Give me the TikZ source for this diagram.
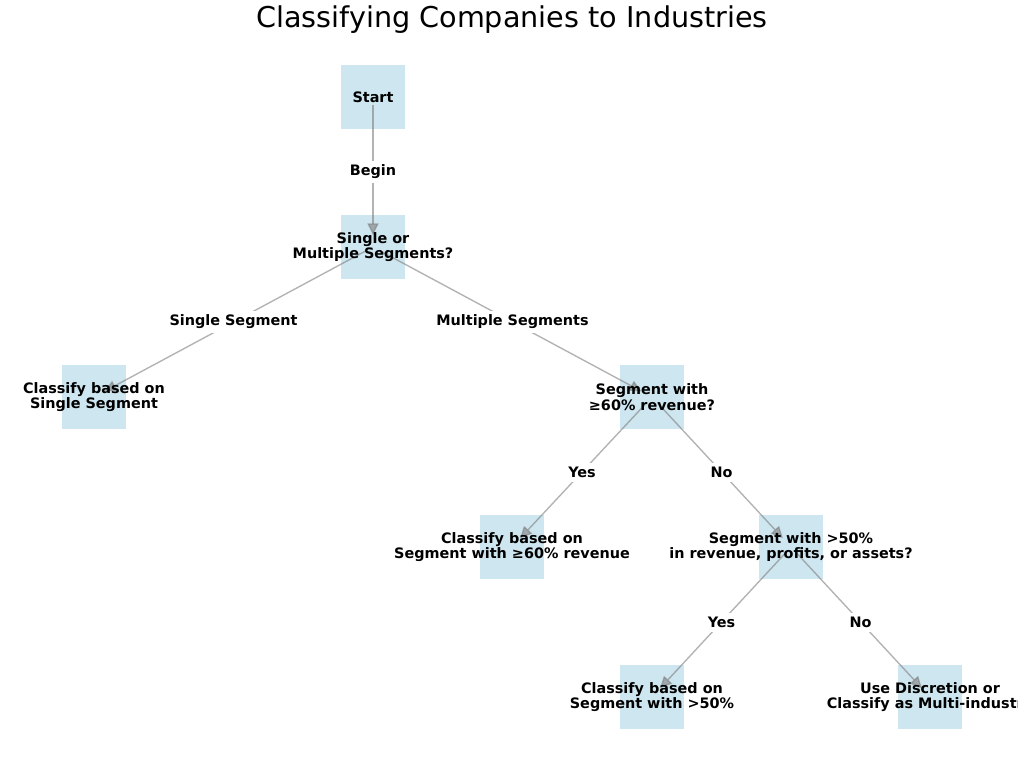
\documentclass[tikz,border=0pt]{standalone}
\usepackage{fontspec}
\setmainfont{DejaVu Sans}
\usetikzlibrary{arrows.meta}
\definecolor{boxblue}{RGB}{205,230,239}

\begin{document}
\begin{tikzpicture}[x=0.01in, y=-0.01in,
	sq/.style={fill=boxblue, minimum size=0.63in, inner sep=0pt},
	txt/.style={text=black, font=\fontsize{10.4}{11.4}\selectfont\bfseries, align=center},
	edge/.style={gray, opacity=0.6, line width=1pt, shorten <=5.8pt, shorten >=8.6pt, -{Triangle[length=8.5pt, width=8pt]}},
	elbl/.style={txt, fill=white, opacity=1, text opacity=1, inner sep=3pt}]
	\useasboundingbox (0,0) rectangle (1024,767);
	\clip (0,0) rectangle (1017,767);
	\node[font=\fontsize{20.7}{24}\selectfont] (title) at (512,20) {Classifying Companies to Industries};
	% squares
	\node[sq] (start) at (373,97) {};
	\node[sq] (nseg) at (373,247) {};
	\node[sq] (single) at (94,397) {};
	\node[sq] (sixty) at (652,397) {};
	\node[sq] (bysixty) at (512,547) {};
	\node[sq] (fifty) at (791,547) {};
	\node[sq] (byfifty) at (652,697) {};
	\node[sq] (discr) at (930,697) {};
	% edges
	\draw[edge] (start.center) -- (nseg.center) node[elbl, pos=0.5] {Begin};
	\draw[edge] (nseg.center) -- (single.center) node[elbl, pos=0.5] {Single Segment};
	\draw[edge] (nseg.center) -- (sixty.center) node[elbl, pos=0.5] {Multiple Segments};
	\draw[edge] (sixty.center) -- (bysixty.center) node[elbl, pos=0.5] {Yes};
	\draw[edge] (sixty.center) -- (fifty.center) node[elbl, pos=0.5] {No};
	\draw[edge] (fifty.center) -- (byfifty.center) node[elbl, pos=0.5] {Yes};
	\draw[edge] (fifty.center) -- (discr.center) node[elbl, pos=0.5] {No};
	% texts
	\node[txt] at (start) {Start};
	\node[txt] at (nseg) {Single or\\Multiple Segments?};
	\node[txt] at (single) {Classify based on\\Single Segment};
	\node[txt] at (sixty) {Segment with\\≥60\% revenue?};
	\node[txt] at (bysixty) {Classify based on\\Segment with ≥60\% revenue};
	\node[txt] at (fifty) {Segment with >50\%\\in revenue, profits, or assets?};
	\node[txt] at (byfifty) {Classify based on\\Segment with >50\%};
	\node[txt] at (discr) {Use Discretion or\\Classify as Multi-industry};
\end{tikzpicture}
\end{document}
